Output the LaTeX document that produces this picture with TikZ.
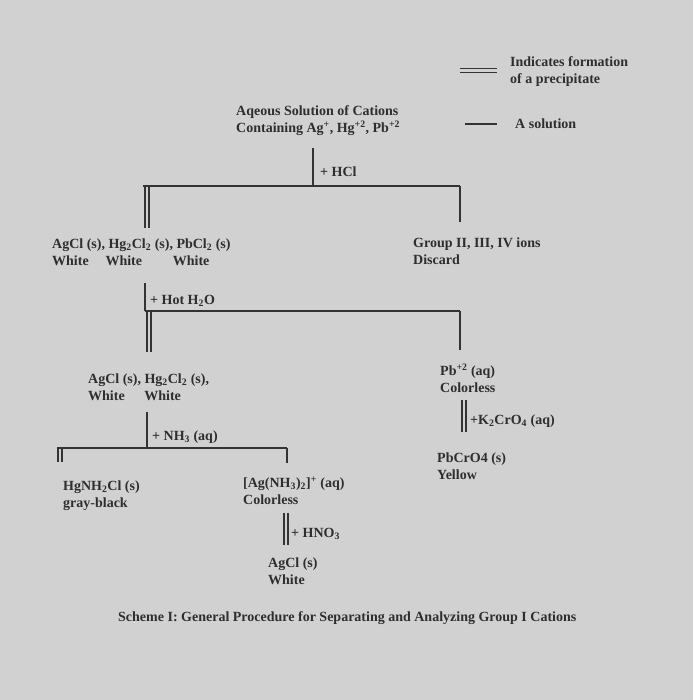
\documentclass[tikz,border=0pt]{standalone}
\usepackage{fontspec}
\setmainfont{Liberation Serif}
\begin{document}
\begin{tikzpicture}[x=1pt,y=-1pt,
  t/.style={anchor=west,inner sep=0pt,font=\fontsize{14}{17}\selectfont\bfseries,text=black!82,align=left},
  ln/.style={line width=1.1pt,black!80}]
\fill[black!18] (0,0) rectangle (693,700);
\useasboundingbox (0,0) rectangle (693,700);
% legend
\draw[line width=1.1pt,black!80] (460,68.5)--(497,68.5) (460,72.5)--(497,72.5);
\node[t] (leg1) at (510,72) {Indicates formation\\of a precipitate};
\coordinate (l3) at (465,124); \coordinate (l4) at (497,124);
\draw[ln] (l3)--(l4);
\node[t] (leg2) at (515,124) {A solution};
% top
\node[t] (top) at (236,121) {Aqeous Solution of Cations\\Containing Ag\textsuperscript{+}, Hg\textsuperscript{+2}, Pb\textsuperscript{+2}};
\coordinate (a0) at (313,148); \coordinate (a1) at (313,186);
\draw[ln] (a0)--(a1);
\node[t] (hcl) at (320,172) {+ HCl};
\coordinate (h1) at (143,186); \coordinate (h2) at (460,186);
\draw[ln] (h1)--(h2);
\draw[ln] (145,186)--(145,228) (149,186)--(149,228);
\draw[ln] (h2)--(460,222);
\node[t] (ppt1) at (52,252) {AgCl (s), Hg\textsubscript{2}Cl\textsubscript{2} (s), PbCl\textsubscript{2} (s)\\White\hspace{1.2em}White\hspace{2.2em}White};
\node[t] (disc) at (413,251) {Group II, III, IV ions\\Discard};
% hot water
\draw[ln] (145,283)--(145,311);
\node[t] (hot) at (150,301) {+ Hot H\textsubscript{2}O};
\draw[ln] (145,311)--(460,311);
\draw[ln] (147,311)--(147,352) (151,311)--(151,352);
\draw[ln] (460,311)--(460,350);
\node[t] (ppt2) at (88,387) {AgCl (s), Hg\textsubscript{2}Cl\textsubscript{2} (s),\\White\hspace{1.4em}White};
\node[t] (pb) at (440,378) {Pb\textsuperscript{+2} (aq)\\Colorless};
\draw[ln] (462,400)--(462,432) (466,400)--(466,432);
\node[t] (kc) at (470,421) {+K\textsubscript{2}CrO\textsubscript{4} (aq)};
\node[t] (pbcr) at (437,466) {PbCrO4 (s)\\Yellow};
% NH3
\draw[ln] (147,412)--(147,448);
\node[t] (nh3) at (152,437) {+ NH\textsubscript{3} (aq)};
\draw[ln] (57,448)--(287,448);
\draw[ln] (58,448)--(58,462) (62,448)--(62,462);
\draw[ln] (287,448)--(287,463);
\node[t] (hg) at (63,496) {HgNH\textsubscript{2}Cl (s)\\gray-black};
\node[t] (ag) at (243,491) {[Ag(NH\textsubscript{3})\textsubscript{2}]\textsuperscript{+} (aq)\\Colorless};
\draw[ln] (284,513)--(284,545) (288,513)--(288,545);
\node[t] (hno) at (291,534) {+ HNO\textsubscript{3}};
\node[t] (agcl) at (268,571) {AgCl (s)\\White};
\node[t] (cap) at (118,618) {Scheme I: General Procedure for Separating and Analyzing Group I Cations};
\end{tikzpicture}
\end{document}
